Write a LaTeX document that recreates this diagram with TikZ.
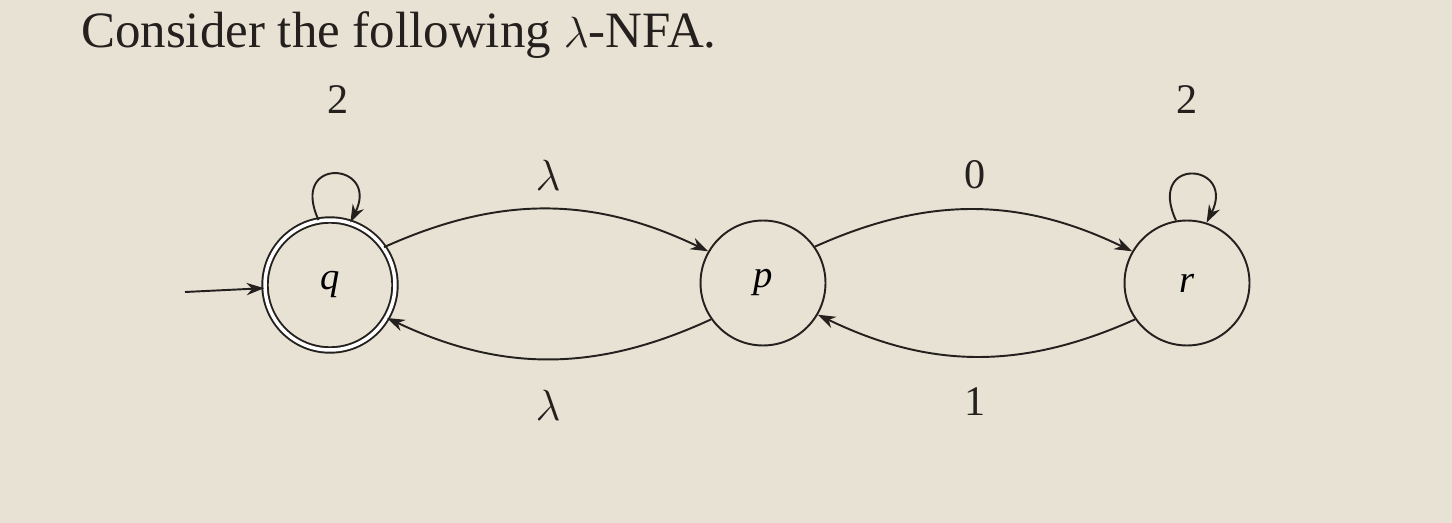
\documentclass[tikz,border=0pt]{standalone}
\usepackage{fontspec}
\setmainfont{Liberation Serif}
\usetikzlibrary{arrows.meta}
\definecolor{bg}{RGB}{232,226,212}
\definecolor{ink}{RGB}{35,32,30}
\begin{document}
\begin{tikzpicture}[x=0.02cm,y=-0.02cm,
  state/.style={circle,draw=ink,line width=1.1pt,minimum size=2.5cm,inner sep=0pt,font=\fontsize{22}{24}\selectfont\itshape},
  lab/.style={font=\fontsize{24}{26}\selectfont,text=ink},
  edge/.style={draw=ink,line width=1.1pt,-{Stealth[length=10pt,width=7pt]}}]
\fill[bg] (0,0) rectangle (1452,523);
\useasboundingbox (0,0) rectangle (1452,523);
\node[anchor=base west,font=\fontsize{29}{31}\selectfont,text=ink] (t) at (75,48) {Consider the following $\lambda$-NFA.};
\node[state,double,double distance=2pt,minimum size=2.6cm] (q) at (330,285) {q};
\node[state] (p) at (763,283) {p};
\node[state] (r) at (1187,283) {r};
\coordinate (s) at (185,292);
\draw[edge] (s) -- (q);
\draw[edge] (q.100) .. controls +(-30,-65) and +(30,-60) .. (q.72);
\draw[edge] (r.100) .. controls +(-30,-65) and +(30,-60) .. (r.72);
\draw[edge] (q.35) to[bend left=25] (p.150);
\draw[edge] (p.215) to[bend left=25] (q.330);
\draw[edge] (p.35) to[bend left=25] (r.150);
\draw[edge] (r.215) to[bend left=25] (p.330);
\node[lab] (l1) at (338,100) {2};
\node[lab] (l2) at (1187,100) {2};
\node[lab] (l3) at (548,175) {$\lambda$};
\node[lab] (l4) at (548,405) {$\lambda$};
\node[lab] (l5) at (975,175) {0};
\node[lab] (l6) at (975,402) {1};
\end{tikzpicture}
\end{document}
